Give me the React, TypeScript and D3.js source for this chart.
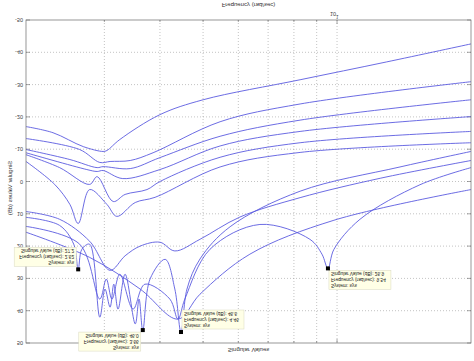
import React from 'react';
import * as d3 from 'd3';

// singular value curves, [frequency (rad/sec), dB]
const sv1 = [[2.0, -17.0], [2.3, -15.1], [2.69, -10.8], [2.98, -9.3], [3.04, -9.6], [3.25, -13.0], [4.0, -20.7], [5.0, -25.3], [8.26, -31.5], [12.9, -37.0], [20, -42.6]];
const sv2 = [[2.0, -13.3], [2.64, -9.9], [2.93, -5.9], [3.09, -6.2], [3.43, -6.5], [3.86, -8.9], [5.46, -18.5], [8.26, -24.0], [20, -30.9]];
const sv3 = [[2.0, -9.9], [2.51, -6.8], [2.89, -4.3], [2.98, -4.6], [3.43, -4.0], [4.0, -7.4], [5.46, -14.0], [8.26, -19.0], [20, -25.3]];
const sv4 = [[2.0, -8.9], [2.74, -3.7], [2.89, -3.1], [2.98, -3.4], [3.3, -0.9], [4.0, -3.7], [5.46, -11.0], [8.26, -15.5], [20, -20.1]];
const sv5 = [[2.0, -8.3], [2.38, -4.3], [2.78, 0.9], [2.89, -1.5], [3.14, 6.2], [3.34, 4.0], [3.74, 2.5], [4.0, 0], [5.46, -7.5], [8.26, -12.0], [20, -15.5]];
const sv6 = [[2.0, -6.2], [2.32, 0.9], [2.51, 7.1], [2.62, 13.0], [2.78, 2.5], [3.04, 7.1], [3.2, 10.8], [3.52, 6.5], [3.9, 4.9], [5.46, -4.5], [8.26, -9.0], [20, -12.0]];
const sv7 = [[2.0, 9.3], [2.38, 11.7], [2.78, 18.5], [3.09, 27.5], [3.34, 23.0], [3.61, 20.0], [4.0, 18.8], [4.32, 21.5], [4.92, 17.9], [6.05, 11.0], [8.26, 5.0], [12.5, -1.0], [20, -6.5]];
const sv8 = [[2.0, 11.1], [2.38, 13.6], [2.56, 19.4], [2.62, 27.2], [2.67, 21.0], [2.78, 19.4], [2.93, 42.0], [3.01, 33.3], [3.09, 38.9], [3.15, 31.8], [3.22, 39.5], [3.34, 28.7], [3.52, 44.1], [3.59, 36.4], [3.66, 46.0], [3.8, 30.2], [4.11, 24.1], [4.32, 33.3], [4.46, 46.6], [4.6, 33.3], [4.92, 24.0], [5.75, 14.0], [8.26, 3.0], [13.85, -4.5], [20, -9.3]];
const sv9 = [[2.0, 13.9], [2.64, 19.4], [2.93, 36.4], [3.03, 30.2], [3.12, 36.4], [3.25, 28.7], [3.48, 39.5], [3.7, 31.8], [4.21, 36.4], [4.39, 42.6], [4.55, 36.4], [5.18, 21.0], [6.71, 13.3], [8.69, 17.9], [9.25, 22.5], [9.54, 26.9], [9.84, 21.0], [11.26, 11.7], [15.36, 1.0], [20, -4.3]];
const sv10 = [[2.0, 15.7], [2.78, 23.5], [3.61, 33.3], [4.39, 42.6], [4.92, 34.9], [6.37, 22.5], [9.84, 12.0], [20, 2.5]];
const curves = [sv1, sv2, sv3, sv4, sv5, sv6, sv7, sv8, sv9, sv10];

// data tips
const tipFreq = [2.62, 3.66, 4.46, 9.54];
const tipDb = [27.2, 46.0, 46.6, 26.9];
const tipSide = ['lowleft', 'upleft', 'lowright', 'upright'];

const yTicks = [-50, -40, -30, -20, -10, 0, 10, 20, 30, 40, 50];
const xGrid = [3, 4, 5, 6, 7, 8, 9, 10];

const W = 474;
const H = 361;

export default function App() {
  const x = d3.scaleLog().domain([2, 20]).range([26, 471]);
  const y = d3.scaleLinear().domain([-50, 50]).range([341, 18]);
  const line = d3.line<number[]>().x(d => x(d[0])).y(d => y(d[1])).curve(d3.curveCatmullRom.alpha(0.5));
  const [x0, x1] = x.range();
  const [y0, y1] = y.range();
  const axisCol = '#6a6a6a';
  const font = "'Liberation Sans', Arial, Helvetica, sans-serif";

  return (
    <svg width={W} height={H} style={{ position: 'absolute', left: 0, top: 0, background: '#fff' }} fontFamily={font}>
      {/* whole figure is shown upside down, like the reference */}
      <g transform={`translate(0,${H}) scale(1,-1)`}>
        <rect x={0} y={0} width={W} height={H} fill="#fff" />
        {/* grid */}
        {yTicks.slice(1, -1).map(t => (
          <line key={'gy' + t} x1={x0} x2={x1} y1={y(t)} y2={y(t)} stroke="#9a9a9a" strokeWidth={0.6} strokeDasharray="1,2" />
        ))}
        {xGrid.map(t => (
          <line key={'gx' + t} x1={x(t)} x2={x(t)} y1={y0} y2={y1} stroke="#9a9a9a" strokeWidth={0.6} strokeDasharray="1,2" />
        ))}
        {/* ticks */}
        {yTicks.map(t => (
          <g key={'ty' + t}>
            <line x1={x0} x2={x0 + 4} y1={y(t)} y2={y(t)} stroke={axisCol} strokeWidth={0.6} />
            <line x1={x1} x2={x1 - 4} y1={y(t)} y2={y(t)} stroke={axisCol} strokeWidth={0.6} />
            <text x={x0 - 3} y={y(t)} dy="0.35em" fontSize={5.5} textAnchor="end" fill="#444">{t}</text>
          </g>
        ))}
        {xGrid.map(t => (
          <g key={'tx' + t}>
            <line x1={x(t)} x2={x(t)} y1={y0} y2={y0 - (t === 10 ? 4 : 2)} stroke={axisCol} strokeWidth={0.6} />
            <line x1={x(t)} x2={x(t)} y1={y1} y2={y1 + (t === 10 ? 4 : 2)} stroke={axisCol} strokeWidth={0.6} />
          </g>
        ))}
        <text x={x(10) - 1} y={y0 + 8} fontSize={5.5} textAnchor="end" fill="#444">10</text>
        <text x={x(10) - 1} y={y0 + 5} fontSize={4.5} textAnchor="start" fill="#444">1</text>
        {/* curves */}
        {curves.map((c, i) => (
          <path key={'c' + i} d={line(c) || ''} fill="none" stroke="#5b5be0" strokeWidth={0.9} />
        ))}
        {/* frame */}
        <rect x={x0} y={y1} width={x1 - x0} height={y0 - y1} fill="none" stroke={axisCol} strokeWidth={0.7} />
        {/* labels */}
        <text x={(x0 + x1) / 2} y={13} fontSize={6} textAnchor="middle" fill="#333">Singular Values</text>
        <text x={(x0 + x1) / 2} y={358} fontSize={6} textAnchor="middle" fill="#333">Frequency (rad/sec)</text>
        <text transform={`translate(12,173) rotate(-90)`} fontSize={6} textAnchor="middle" fill="#333">Singular Values (dB)</text>
        {/* data tips */}
        {tipFreq.map((f, i) => {
          const mx = x(f);
          const my = y(tipDb[i]);
          const bw = 62;
          const bh = 19;
          const side = tipSide[i];
          const left = side.includes('left');
          const bx = left ? mx - 2 - bw : mx + 1;
          const by = side.startsWith('low') ? my + 3 : my - 2 - bh;
          const tx = left ? bx + bw - 2 : bx + 2;
          const anchor = left ? 'end' : 'start';
          const lines = ['System: sys', `Frequency (rad/sec): ${f.toFixed(2)}`, `Singular Value (dB): ${tipDb[i].toFixed(1)}`];
          return (
            <g key={'tip' + i}>
              <rect x={bx} y={by} width={bw} height={bh} fill="#ffffe6" stroke="#d8d8c0" strokeWidth={0.5} />
              {lines.map((s, j) => (
                <text key={j} x={tx} y={by + 5.5 + j * 5.8} fontSize={4.8} textAnchor={anchor} fill="#222">{s}</text>
              ))}
              <rect x={mx - 2} y={my - 2} width={4} height={4} fill="#000" />
            </g>
          );
        })}
      </g>
    </svg>
  );
}
